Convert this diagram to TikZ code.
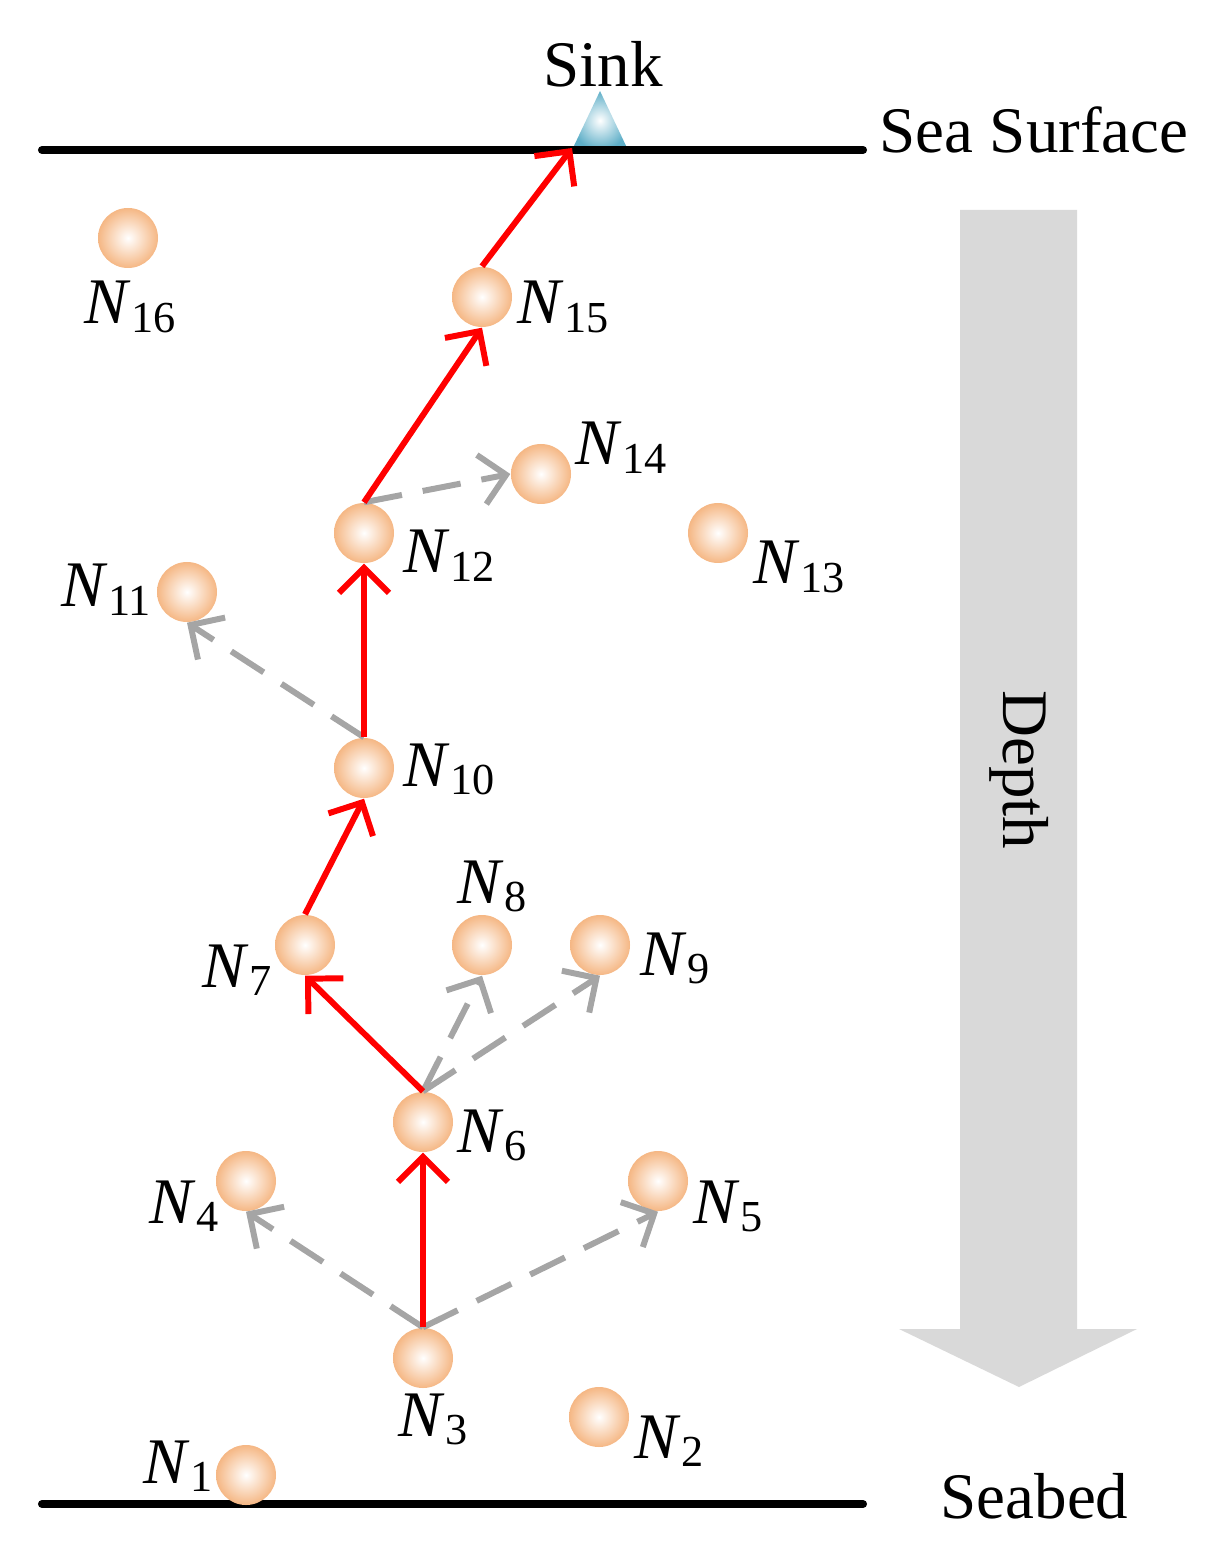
\documentclass[tikz,border=0pt]{standalone}
\usepackage{fontspec}
\setmainfont{Liberation Serif}
\usetikzlibrary{arrows.meta}
\definecolor{ballc}{RGB}{245,183,132}
\definecolor{sinkc}{RGB}{95,175,200}
\definecolor{pathc}{RGB}{165,165,165}
\definecolor{depthc}{RGB}{217,217,217}
\newcommand{\nlab}[1]{\textit{N}\raisebox{-2.5pt}{\fontsize{12.6pt}{14pt}\selectfont #1}}

\begin{document}
\begin{tikzpicture}
				\tikzset{sn/.style={circle, minimum size=0.6cm, inner sep=0pt, shading=radial, inner color=white, outer color=ballc},
					lb/.style={anchor=base west, inner sep=0pt, font=\fontsize{18.5pt}{20pt}\selectfont},
					txt/.style={inner sep=0pt, font=\fontsize{18.5pt}{20pt}\selectfont},
					hop/.style={-{Straight Barb[length=2.5mm,width=5mm]}, red, line width=1.7pt},
					alt/.style={-{Straight Barb[length=2.5mm,width=5mm]}, pathc, line width=1.7pt, dash pattern=on 11pt off 6pt}};
				\useasboundingbox (0,0) rectangle (12.14,-15.54);

				% depth arrow
				\fill[depthc] (9.60,-2.10) -- (10.77,-2.10) -- (10.77,-13.29) -- (11.37,-13.29) -- (10.19,-13.87) -- (8.99,-13.29) -- (9.60,-13.29) -- cycle;
				\node[txt, rotate=-90] (depth) at (10.19,-7.70) {Depth};

				% sink and sea
				\shade[inner color=white, outer color=sinkc] (5.72,-1.50) -- (6.00,-0.91) -- (6.28,-1.50) -- cycle;
				\coordinate (sink) at (5.72,-1.48);
				\node[txt, anchor=base] (sinktext) at (6.03,-0.87) {Sink};
				\draw[line width=2.3pt, line cap=round] (0.42,-1.50) -- (8.63,-1.50);
				\draw[line width=2.3pt, line cap=round] (0.42,-15.04) -- (8.63,-15.04);
				\node[txt, anchor=base west] (surface) at (8.79,-1.53) {Sea Surface};
				\node[txt, anchor=base west] (seabed) at (9.40,-15.18) {Seabed};

				% sensor nodes
				\node[sn] (N1) at (2.46,-14.75) {};
				\node[sn] (N2) at (5.99,-14.17) {};
				\node[sn] (N3) at (4.23,-13.58) {};
				\node[sn] (N4) at (2.46,-11.81) {};
				\node[sn] (N5) at (6.58,-11.81) {};
				\node[sn] (N6) at (4.23,-11.22) {};
				\node[sn] (N7) at (3.05,-9.45) {};
				\node[sn] (N8) at (4.82,-9.45) {};
				\node[sn] (N9) at (6.00,-9.45) {};
				\node[sn] (N10) at (3.64,-7.68) {};
				\node[sn] (N11) at (1.87,-5.92) {};
				\node[sn] (N12) at (3.64,-5.33) {};
				\node[sn] (N13) at (7.18,-5.33) {};
				\node[sn] (N14) at (5.41,-4.74) {};
				\node[sn] (N15) at (4.82,-2.97) {};
				\node[sn] (N16) at (1.28,-2.38) {};

				% labels
				\node[lb] (L1) at (1.43,-14.83) {\nlab{1}};
				\node[lb] (L2) at (6.34,-14.58) {\nlab{2}};
				\node[lb] (L3) at (3.98,-14.36) {\nlab{3}};
				\node[lb] (L4) at (1.49,-12.23) {\nlab{4}};
				\node[lb] (L5) at (6.93,-12.23) {\nlab{5}};
				\node[lb] (L6) at (4.57,-11.52) {\nlab{6}};
				\node[lb] (L7) at (2.02,-9.87) {\nlab{7}};
				\node[lb] (L8) at (4.57,-9.03) {\nlab{8}};
				\node[lb] (L9) at (6.40,-9.75) {\nlab{9}};
				\node[lb] (L10) at (4.03,-7.86) {\nlab{10}};
				\node[lb] (L11) at (0.61,-6.07) {\nlab{11}};
				\node[lb] (L12) at (4.03,-5.73) {\nlab{12}};
				\node[lb] (L13) at (7.53,-5.84) {\nlab{13}};
				\node[lb] (L14) at (5.75,-4.65) {\nlab{14}};
				\node[lb] (L15) at (5.17,-3.24) {\nlab{15}};
				\node[lb] (L16) at (0.84,-3.24) {\nlab{16}};

				% candidate hops
				\draw[alt] (N3.north) -- (N4.south);
				\draw[alt] (N3.north) -- (N5.south);
				\draw[alt] (N6.north) -- (N8.south);
				\draw[alt] (N6.north) -- (N9.south);
				\draw[alt] (N10.north) -- (N11.south);
				\draw[alt] (N12.north) -- (N14.west);

				% chosen route
				\draw[hop] (N3.north) -- (N6.south);
				\draw[hop] (N6.north) -- (N7.south);
				\draw[hop] (N7.north) -- (N10.south);
				\draw[hop] (N10.north) -- (N12.south);
				\draw[hop] (N12.north) -- (N15.south);
				\draw[hop] (N15.north) -- (sink);
			\end{tikzpicture}
\end{document}
